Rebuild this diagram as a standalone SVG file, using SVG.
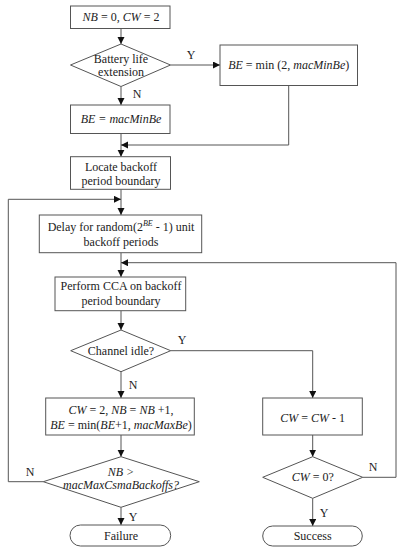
<svg xmlns="http://www.w3.org/2000/svg" width="402" height="550" viewBox="0 0 402 550">
<style>
.b{fill:#fff;stroke:#555;stroke-width:1}
.c{fill:none;stroke:#555;stroke-width:1}
text{font-family:"Liberation Serif","DejaVu Serif",serif;font-size:12px;fill:#222;text-anchor:middle}
.i{font-style:italic}
.l{font-size:12px}
</style>
<defs>
<marker id="a" markerUnits="userSpaceOnUse" markerWidth="8" markerHeight="8" refX="7" refY="3.5" orient="auto">
<path d="M0,0 L7,3.5 L0,7 z" fill="#111"/>
</marker>
</defs>
<rect width="402" height="550" fill="#fff"/>
<g id="connectors">
<path class="c" d="M121,28.5 V44" marker-end="url(#a)"/>
<path class="c" d="M170.5,65 H220" marker-end="url(#a)"/>
<path class="c" d="M121,86.5 V105" marker-end="url(#a)"/>
<path class="c" d="M121,133.5 V156.7" marker-end="url(#a)"/>
<path class="c" d="M288.7,85.5 V145 H121" marker-end="url(#a)"/>
<path class="c" d="M121,189.3 V215" marker-end="url(#a)"/>
<path class="c" d="M43.3,481.7 H8.3 V199.3 H121" marker-end="url(#a)"/>
<path class="c" d="M121,252.7 V277" marker-end="url(#a)"/>
<path class="c" d="M362.7,477.3 H396 V262.7 H121" marker-end="url(#a)"/>
<path class="c" d="M121,310.7 V330" marker-end="url(#a)"/>
<path class="c" d="M170.7,350.7 H312.7 V398" marker-end="url(#a)"/>
<path class="c" d="M121,371.7 V398" marker-end="url(#a)"/>
<path class="c" d="M121,435 V456.7" marker-end="url(#a)"/>
<path class="c" d="M312.7,435 V456.7" marker-end="url(#a)"/>
<path class="c" d="M121,507.3 V525" marker-end="url(#a)"/>
<path class="c" d="M312.7,498.3 V526" marker-end="url(#a)"/>
<text x="191" y="59" class="l">Y</text>
<text x="137" y="98" class="l">N</text>
<text x="182" y="344" class="l">Y</text>
<text x="133" y="389" class="l">N</text>
<text x="30" y="476" class="l">N</text>
<text x="133" y="521" class="l">Y</text>
<text x="373" y="471" class="l">N</text>
<text x="324" y="517" class="l">Y</text>
</g>
<g id="init">
<rect class="b" x="70.5" y="6" width="99.5" height="22.5"/>
<text x="121" y="21"><tspan class="i">NB</tspan> = 0, <tspan class="i">CW</tspan> = 2</text>
</g>
<g id="battery">
<polygon class="b" points="121,44 170.5,65 121,86.5 70.5,65"/>
<text x="121" y="63">Battery life</text>
<text x="121" y="76">extension</text>
</g>
<g id="be-min">
<rect class="b" x="220" y="45" width="137.5" height="40.5"/>
<text x="288.7" y="69"><tspan class="i">BE</tspan> = min (2, <tspan class="i">macMinBe</tspan>)</text>
</g>
<g id="be-macmin">
<rect class="b" x="70.5" y="105" width="99.5" height="28.5"/>
<text x="121" y="123" class="i">BE = macMinBe</text>
</g>
<g id="locate">
<rect class="b" x="70.5" y="156.7" width="100" height="32.6"/>
<text x="121" y="170.7">Locate backoff</text>
<text x="121" y="184.5">period boundary</text>
</g>
<g id="delay">
<rect class="b" x="39.3" y="215" width="162.4" height="37.7"/>
<text x="121" y="231">Delay for random(2<tspan class="i" font-size="8" dy="-5">BE</tspan><tspan dy="5"> - 1) unit</tspan></text>
<text x="121" y="246">backoff periods</text>
</g>
<g id="cca">
<rect class="b" x="55" y="277" width="130.7" height="33.7"/>
<text x="121" y="290">Perform CCA on backoff</text>
<text x="121" y="305">period boundary</text>
</g>
<g id="idle">
<polygon class="b" points="121,330 170.7,350.7 121,371.7 70.7,350.7"/>
<text x="121" y="355">Channel idle?</text>
</g>
<g id="update">
<rect class="b" x="45.7" y="398" width="148.6" height="37"/>
<text x="121" y="414"><tspan class="i">CW</tspan> = 2, <tspan class="i">NB</tspan> = <tspan class="i">NB</tspan> +1,</text>
<text x="121" y="428.5"><tspan class="i">BE</tspan> = min(<tspan class="i">BE</tspan>+1, <tspan class="i">macMaxBe</tspan>)</text>
</g>
<g id="cw-dec">
<rect class="b" x="262.7" y="398" width="99.6" height="37"/>
<text x="312.7" y="422"><tspan class="i">CW</tspan> = <tspan class="i">CW</tspan> - 1</text>
</g>
<g id="nb-check">
<polygon class="b" points="121,456.7 199.3,481.7 121,507.3 43.3,481.7"/>
<text x="121" y="475.7" class="i">NB &gt;</text>
<text x="121" y="489" class="i">macMaxCsmaBackoffs?</text>
</g>
<g id="cw-check">
<polygon class="b" points="312.7,456.7 362.7,477.3 312.7,498.3 262.7,477.3"/>
<text x="312.7" y="481.3"><tspan class="i">CW</tspan> = 0?</text>
</g>
<g id="failure">
<rect class="b" x="70" y="525" width="100.7" height="21" rx="10.5"/>
<text x="121" y="539.5">Failure</text>
</g>
<g id="success">
<rect class="b" x="262.7" y="526" width="99.6" height="20" rx="10"/>
<text x="312.7" y="540">Success</text>
</g>
</svg>
